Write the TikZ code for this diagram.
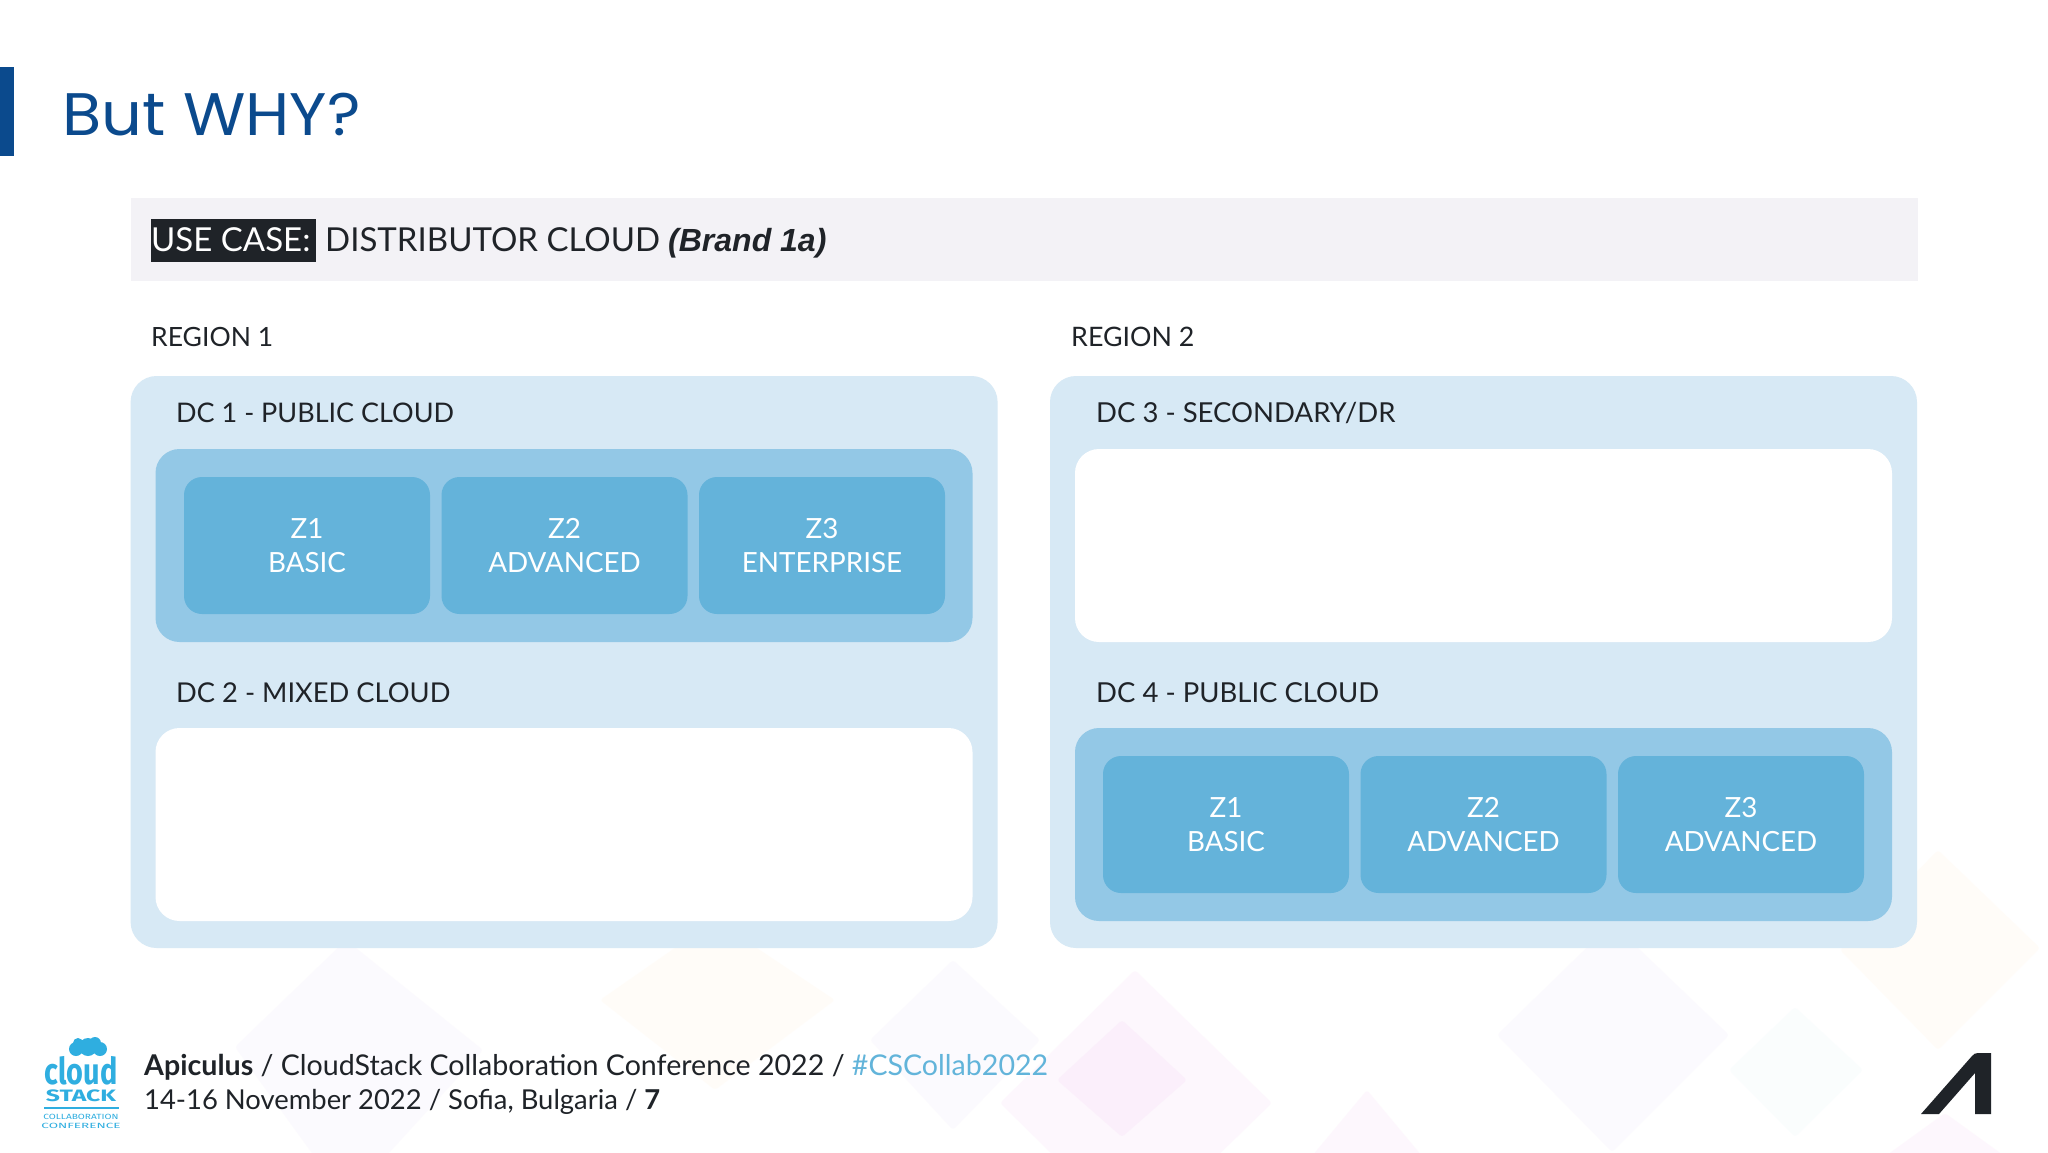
\documentclass[tikz,border=0pt]{standalone}
\usepackage{fontspec}
\setmainfont{Lato}
\newfontfamily\titlefont{Poppins}
\newfontfamily\armfont{Liberation Sans}
\newfontfamily\logofont{Fira Sans}
\usepackage{tikz}
\usetikzlibrary{positioning}
\definecolor{navy}{HTML}{0B4A8D}
\definecolor{panel}{HTML}{F3F2F6}
\definecolor{dcout}{HTML}{D7E9F5}
\definecolor{dcin}{HTML}{93C8E6}
\definecolor{zone}{HTML}{64B3DA}
\definecolor{tag}{HTML}{62B4DA}
\definecolor{ink}{HTML}{1F2328}
\definecolor{logo}{HTML}{2FAEE0}
\definecolor{tlilac}{HTML}{F9F6FE}
\definecolor{tpink}{HTML}{FDF1FC}
\definecolor{tpinkb}{HTML}{FAE9FA}
\definecolor{tcyan}{HTML}{F6FCFD}
\definecolor{tyellow}{HTML}{FFFBF3}
\begin{document}
\begin{tikzpicture}
[
x=1pt, y=-1pt,
region/.style={rectangle, fill=dcout, outer sep=0pt, inner sep=0pt, rounded corners=26pt, anchor=north west, minimum width=867pt, minimum height=572pt},
dc/.style={rectangle, fill=dcin, outer sep=0pt, inner sep=0pt, rounded corners=24pt, anchor=north west, minimum width=817pt, minimum height=193pt},
dc-empty/.style={dc, fill=white},
zbox/.style={rectangle, fill=zone, outer sep=0pt, inner sep=0pt, rounded corners=18pt, minimum width=246pt, minimum height=137pt, align=center, text=white, font=\fontsize{27.8}{34}\selectfont},
text-a/.style={ink, anchor=base west, inner sep=0pt, font=\fontsize{33}{38}\selectfont},
text-b/.style={ink, anchor=base west, inner sep=0pt, font=\fontsize{27.3}{34}\selectfont},
text-l/.style={logo, anchor=base, inner sep=0pt, transform shape},
leaf/.style={fill opacity=0.55, draw=none, rounded corners=3pt},
]
\useasboundingbox (0,0) rectangle (2048,1152);
\fill [white] (0,0) rectangle (2048,1152);
\path [leaf, fill=tlilac] (346,940) -- (483,1050) -- (346,1200) -- (235,1047) -- cycle;
\path [leaf, fill=tyellow] (715,920) -- (835,1000) -- (715,1090) -- (600,1000) -- cycle;
\path [leaf, fill=tlilac] (953,960) -- (1040,1040) -- (953,1130) -- (870,1040) -- cycle;
\path [leaf, fill=tpink] (1135,970) -- (1272,1103) -- (1135,1236) -- (1000,1103) -- cycle;
\path [leaf, fill=tpinkb] (1122,1020) -- (1187,1080) -- (1122,1137) -- (1057,1080) -- cycle;
\path [leaf, fill=tpink] (1367,1090) -- (1467,1210) -- (1367,1330) -- (1267,1210) -- cycle;
\path [leaf, fill=tlilac] (1612,923) -- (1729,1035) -- (1612,1152) -- (1497,1035) -- cycle;
\path [leaf, fill=tcyan] (1795,1007) -- (1863,1070) -- (1795,1137) -- (1729,1070) -- cycle;
\path [leaf, fill=tyellow] (1938,850) -- (2040,948) -- (1938,1050) -- (1840,950) -- cycle;
\path [leaf, fill=tpink] (1945,1113) -- (2010,1160) -- (1945,1210) -- (1880,1160) -- cycle;

\node (bar) [rectangle, fill=navy, outer sep=0pt, inner sep=0pt, anchor=north west, minimum width=14pt, minimum height=89pt] at (0,67) {};
\node (title) [navy, anchor=base west, inner sep=0pt, xscale=1.065, transform shape, font=\titlefont\fontsize{60}{64}\selectfont] at (62.5,135) {But WHY?};

\node (head) [rectangle, fill=panel, outer sep=0pt, inner sep=0pt, anchor=north west, minimum width=1787pt, minimum height=83pt] at (130.6,198) {};
\node (usebox) [rectangle, fill=ink, outer sep=0pt, inner sep=0pt, anchor=north west, minimum width=165pt, minimum height=43pt] at (151,219) {};
\node (use) [text-a, white] at (151,251) {USE CASE:};
\node (dist) [text-a] at (325,251) {DISTRIBUTOR CLOUD};
\node (brand) [text-a, font=\armfont\bfseries\itshape\fontsize{32}{38}\selectfont] at (668,251) {(Brand 1a)};

\node (reg1) [text-b, font=\fontsize{26.5}{34}\selectfont] at (151,346) {REGION 1};
\node (reg2) [text-b, font=\fontsize{26.8}{34}\selectfont] at (1071,346) {REGION 2};

\node (r1) [region] at (130.6,376) {};
\node (r2) [region] at (1050,376) {};

\node (t1) [text-b, font=\fontsize{27}{34}\selectfont] at (176,422.5) {DC 1 - PUBLIC CLOUD};
\node (d1) [dc] at (155.5,449) {};
\node (z11) [zbox] at (307,545.5) {Z1\\BASIC};
\node (z12) [zbox, right = 11.5pt of z11] {Z2\\ADVANCED};
\node (z13) [zbox, right = 11.5pt of z12] {Z3\\ENTERPRISE};

\node (t2) [text-b] at (176,702) {DC 2 - MIXED CLOUD};
\node (d2) [dc-empty] at (155.5,728) {};

\node (t3) [text-b, font=\fontsize{27.5}{34}\selectfont] at (1096,422.5) {DC 3 - SECONDARY/DR};
\node (d3) [dc-empty] at (1075,449) {};

\node (t4) [text-b, font=\fontsize{27.5}{34}\selectfont] at (1096,702) {DC 4 - PUBLIC CLOUD};
\node (d4) [dc] at (1075,728) {};
\node (z41) [zbox] at (1226,824.5) {Z1\\BASIC};
\node (z42) [zbox, right = 11.5pt of z41] {Z2\\ADVANCED};
\node (z43) [zbox, right = 11.5pt of z42] {Z3\\ADVANCED};

\node (foot1) [text-b, font=\fontsize{28.6}{34}\selectfont] at (144,1075) {\textbf{Apiculus} / CloudStack Collaboration Conference 2022 / \textcolor{tag}{\#CSCollab2022}};
\node (foot2) [text-b, font=\fontsize{27.4}{34}\selectfont] at (144,1109) {14-16 November 2022 / Sofia, Bulgaria / \textbf{7}};

\fill [logo] (88,1047) circle (9) (76,1049) circle (7) (100,1049) circle (7) (78,1043) circle (5) (95,1043) circle (6);
\node (lcloud) [text-l, xscale=0.78, font=\logofont\bfseries\fontsize{37}{37}\selectfont] at (81,1084.5) {cloud};
\node (lstack) [text-l, xscale=1.5, font=\logofont\bfseries\fontsize{16.5}{17}\selectfont] at (81,1101.5) {STACK};
\draw [logo, line width=1.2pt] (44,1108) -- (119,1108);
\node (lcoll) [text-l, xscale=1.35, font=\logofont\fontsize{7.5}{8}\selectfont] at (81,1119) {COLLABORATION};
\node (lconf) [text-l, xscale=1.8, font=\logofont\fontsize{7.5}{8}\selectfont] at (81,1128) {CONFERENCE};

\fill [ink] (1921,1114) -- (1972,1056) .. controls (1974,1054) and (1975,1053) .. (1978,1053) -- (1991,1053) -- (1991,1114) -- (1975,1114) -- (1975,1073) -- (1939,1114) -- cycle;
\end{tikzpicture}
\end{document}
